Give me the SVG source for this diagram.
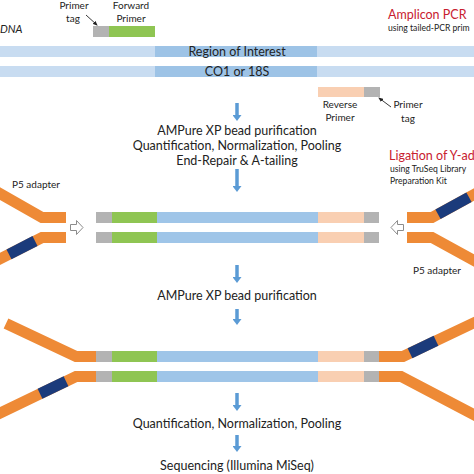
<svg xmlns="http://www.w3.org/2000/svg" width="474" height="474" viewBox="0 0 474 474">
<style>
text{font-family:Lato,"Liberation Sans",sans-serif;fill:#222}
.m{font-size:12.5px;text-anchor:middle}
.s{font-size:10px}
.xs{font-size:8.6px}
.red{font-size:12.5px;fill:#c8202f}
.gray{fill:#b3b3b3}.green{fill:#8fc553}.blue{fill:#9fc5e8}.peach{fill:#f9cfb2}
.bandL{fill:#c8dcf1}.bandD{fill:#9dc3e6}
.ad{fill:none;stroke:#ee8a36;stroke-width:11;stroke-linejoin:miter}
.db{stroke:#1b3b7b;stroke-width:11}
.flow{stroke:#5b9bd5;stroke-width:3.5;marker-end:url(#ah)}
.ptr{stroke:#222;stroke-width:0.9;marker-end:url(#bh)}
.hollow{fill:#fff;stroke:#8c8c8c;stroke-width:1}
</style>
<defs>
<marker id="ah" viewBox="0 0 6 9" markerWidth="6" markerHeight="9" refX="2" refY="4.5" markerUnits="userSpaceOnUse" orient="auto"><path d="M0,0L6,4.5L0,9Z" fill="#5b9bd5"/></marker>
<marker id="bh" viewBox="0 0 5 4" markerWidth="5" markerHeight="4" refX="4" refY="2" markerUnits="userSpaceOnUse" orient="auto"><path d="M0,0L5,2L0,4Z" fill="#222"/></marker>
</defs>

<g id="amplicon-label">
<text class="red" x="388" y="19">Amplicon PCR</text>
<text class="xs" x="388" y="31">using tailed-PCR prim</text>
</g>
<g id="dna-label"><text x="0" y="33" font-style="italic" font-size="11">DNA</text></g>

<g id="forward-primer">
<text class="s" x="74" y="9" text-anchor="middle">Primer</text>
<text class="s" x="73" y="22" text-anchor="middle">tag</text>
<text class="s" x="131" y="9" text-anchor="middle">Forward</text>
<text class="s" x="131" y="22" text-anchor="middle">Primer</text>
<rect class="gray" x="93" y="26" width="16" height="11"/>
<rect class="green" x="109" y="26" width="46" height="11"/>
</g>

<g id="band-region">
<rect class="bandL" x="0" y="46" width="474" height="11"/>
<rect class="bandD" x="155" y="46" width="162" height="11"/>
<text class="m" x="237" y="56">Region of Interest</text>
</g>
<g id="band-co1">
<rect class="bandL" x="0" y="66" width="474" height="11"/>
<rect class="bandD" x="155" y="66" width="162" height="11"/>
<text class="m" x="237" y="76">CO1 or 18S</text>
</g>

<g id="reverse-primer">
<rect class="peach" x="318" y="87" width="46" height="10"/>
<rect class="gray" x="364" y="87" width="16" height="10"/>
<text class="s" x="340" y="108" text-anchor="middle">Reverse</text>
<text class="s" x="340" y="121" text-anchor="middle">Primer</text>
<text class="s" x="408" y="108" text-anchor="middle">Primer</text>
<text class="s" x="408" y="122" text-anchor="middle">tag</text>
</g>

<g id="step1">
<text class="m" x="237" y="135">AMPure XP bead purification</text>
<text class="m" x="237" y="150">Quantification, Normalization, Pooling</text>
<text class="m" x="237" y="165">End-Repair &amp; A-tailing</text>
</g>

<g id="ligation-label">
<text class="red" x="389" y="160" font-size="11.8">Ligation of Y-ad</text>
<text class="xs" x="390" y="172">using TruSeq Library</text>
<text class="xs" x="390" y="184">Preparation Kit</text>
</g>

<g id="left-adapter">
<polyline class="ad" points="66,217.5 42,217.5 -10,188"/>
<polyline class="ad" points="66,237.5 42,237.5 -10,264"/>
<line class="db" x1="35" y1="241" x2="9" y2="254.3"/>
<text class="s" x="12" y="188">P5 adapter</text>
</g>
<g id="amplicon-strands">
<rect class="gray" x="96" y="212" width="16" height="11"/>
<rect class="green" x="112" y="212" width="45" height="11"/>
<rect class="blue" x="157" y="212" width="161" height="11"/>
<rect class="peach" x="318" y="212" width="46" height="11"/>
<rect class="gray" x="364" y="212" width="15" height="11"/>
<rect class="gray" x="96" y="232" width="16" height="11"/>
<rect class="green" x="112" y="232" width="45" height="11"/>
<rect class="blue" x="157" y="232" width="161" height="11"/>
<rect class="peach" x="318" y="232" width="46" height="11"/>
<rect class="gray" x="364" y="232" width="15" height="11"/>
</g>
<g id="right-adapter">
<polyline class="ad" points="407,217.5 432,217.5 484,189"/>
<polyline class="ad" points="407,237.5 432,237.5 484,266"/>
<line class="db" x1="438" y1="214.2" x2="469" y2="197.2"/>
<text class="s" x="413" y="274">P5 adapter</text>
</g>

<g id="step2"><text class="m" x="237" y="300">AMPure XP bead purification</text></g>

<g id="library">
<polyline class="ad" points="96,356.5 76,356.5 6,323.5"/>
<polyline class="ad" points="96,376.5 76,376.5 -10,418"/>
<line class="db" x1="66" y1="381.3" x2="40" y2="393.8"/>
<rect class="gray" x="96" y="351" width="16" height="11"/>
<rect class="green" x="112" y="351" width="45" height="11"/>
<rect class="blue" x="157" y="351" width="161" height="11"/>
<rect class="peach" x="318" y="351" width="46" height="11"/>
<rect class="gray" x="364" y="351" width="15" height="11"/>
<rect class="gray" x="96" y="371" width="16" height="11"/>
<rect class="green" x="112" y="371" width="45" height="11"/>
<rect class="blue" x="157" y="371" width="161" height="11"/>
<rect class="peach" x="318" y="371" width="46" height="11"/>
<rect class="gray" x="364" y="371" width="15" height="11"/>
<polyline class="ad" points="379,356.5 403,356.5 484,318"/>
<polyline class="ad" points="379,376.5 401,376.5 484,420"/>
<line class="db" x1="410" y1="353.2" x2="436" y2="340.8"/>
</g>

<g id="step3"><text class="m" x="237" y="428">Quantification, Normalization, Pooling</text></g>
<g id="step4"><text class="m" x="237" y="470">Sequencing (Illumina MiSeq)</text></g>

<g id="connectors">
<line class="ptr" x1="86" y1="15" x2="97" y2="25"/>
<line class="ptr" x1="391" y1="107" x2="379" y2="98"/>
<line class="flow" x1="237" y1="103" x2="237" y2="117"/>
<line class="flow" x1="237" y1="169" x2="237" y2="188"/>
<line class="flow" x1="237" y1="265" x2="237" y2="279"/>
<line class="flow" x1="237" y1="309" x2="237" y2="321"/>
<line class="flow" x1="237" y1="393" x2="237" y2="407"/>
<line class="flow" x1="237" y1="435" x2="237" y2="448"/>
<path class="hollow" d="M70.5,224.5H76.5V220.5L83,227.5L76.5,234.5V230.5H70.5Z"/>
<path class="hollow" d="M403.5,224.5H397.5V220.5L391,227.5L397.5,234.5V230.5H403.5Z"/>
</g>
</svg>
